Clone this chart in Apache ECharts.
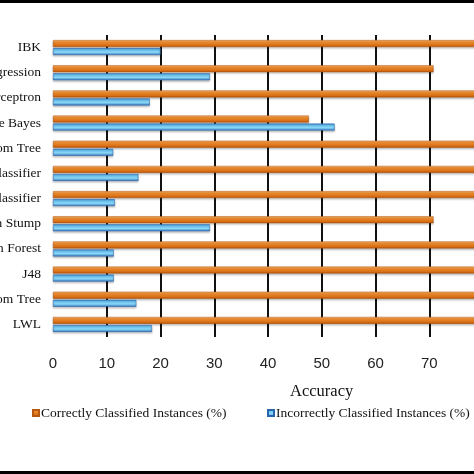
<!DOCTYPE html>
<html>
<head>
<meta charset="utf-8">
<script src="https://cdn.jsdelivr.net/npm/echarts@6/dist/echarts.min.js"></script>
<style>
html,body{margin:0;padding:0;background:#fff;}
#chart{width:474px;height:474px;}
</style>
</head>
<body>
<div id="chart"></div>
<script>
const categories = ["IBK", "Logistic Regression", "Multilayer Perceptron", "Naive Bayes", "Random Tree",
  "Filtered Classifier", "Multi Class Classifier", "Decision Stump", "Random Forest", "J48", "Random Tree", "LWL"];
const correctly = [80.0, 70.8, 82.0, 47.6, 88.8, 84.1, 88.5, 70.8, 88.7, 88.7, 84.5, 81.6];
const incorrectly = [20.0, 29.2, 18.0, 52.4, 11.2, 15.9, 11.5, 29.2, 11.3, 11.3, 15.5, 18.4];
const xTicks = [0, 10, 20, 30, 40, 50, 60, 70, 80];
const seriesNames = ["Correctly Classified Instances (%)", "Incorrectly Classified Instances (%)"];

const orangeFill = new echarts.graphic.LinearGradient(0, 0, 0, 1, [
  {offset: 0, color: '#f7b06a'}, {offset: 0.35, color: '#ec8a2c'},
  {offset: 0.75, color: '#d96d14'}, {offset: 1, color: '#a9520c'}]);
const blueFill = new echarts.graphic.LinearGradient(0, 0, 0, 1, [
  {offset: 0, color: '#3a7cc2'}, {offset: 0.25, color: '#6cc6f2'},
  {offset: 0.6, color: '#8ad8f8'}, {offset: 1, color: '#2f6fb8'}]);

const legendCommon = {
  itemWidth: 6, itemHeight: 6, icon: 'rect', padding: 0,
  textStyle: {fontFamily: 'Liberation Serif', fontSize: 13.5, color: '#111', padding: [0, 0, 0, -3]}
};

const chart = echarts.init(document.getElementById('chart'), null, {renderer: 'canvas'});
chart.setOption({
  backgroundColor: '#ffffff',
  animation: false,
  grid: {left: 53, right: -9, top: 35, bottom: 137, containLabel: false, outerBoundsMode: 'none'},
  xAxis: {
    type: 'value', min: xTicks[0], max: xTicks[xTicks.length - 1], interval: 10,
    axisLine: {show: false}, axisTick: {show: false},
    splitLine: {show: true, showMinLine: false, lineStyle: {color: '#111', width: 2}},
    axisLabel: {margin: 19, fontFamily: 'Liberation Sans', fontSize: 15, color: '#222'}
  },
  yAxis: {
    type: 'category', data: categories, inverse: true,
    axisLine: {show: false}, axisTick: {show: false}, splitLine: {show: false},
    axisLabel: {margin: 12, fontFamily: 'Liberation Serif', fontSize: 13.5, color: '#111'}
  },
  legend: [
    Object.assign({left: 32, top: 406, data: [seriesNames[0]]}, legendCommon),
    Object.assign({left: 267, top: 406, data: [seriesNames[1]]}, legendCommon)
  ],
  graphic: [
    {type: 'rect', left: 0, top: 0, shape: {width: 474, height: 3}, style: {fill: '#000'}},
    {type: 'rect', left: 0, top: 471, shape: {width: 474, height: 3}, style: {fill: '#000'}},
    {type: 'text', left: 290, top: 383, style: {text: 'Accuracy', font: '16.5px "Liberation Serif"', fill: '#111'}}
  ],
  series: [
    {name: seriesNames[0], type: 'bar', data: correctly, barWidth: 7, barGap: '15%',
     itemStyle: {color: orangeFill, borderColor: '#b55a10', borderWidth: 0.5,
       shadowColor: 'rgba(0,0,0,0.25)', shadowBlur: 2, shadowOffsetY: 1.5}},
    {name: seriesNames[1], type: 'bar', data: incorrectly, barWidth: 7, barGap: '15%',
     itemStyle: {color: blueFill, borderColor: '#2a64ad', borderWidth: 0.5,
       shadowColor: 'rgba(0,0,0,0.25)', shadowBlur: 2, shadowOffsetY: 1.5}}
  ]
});
</script>
</body>
</html>
